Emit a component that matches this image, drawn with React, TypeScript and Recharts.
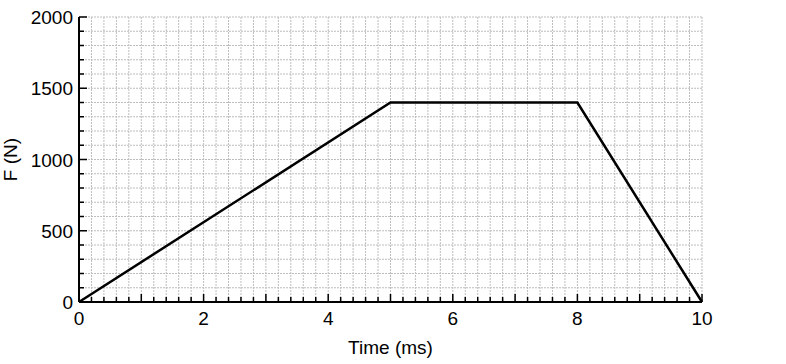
import { LineChart, Line, XAxis, YAxis, CartesianGrid } from "recharts";

const times = [0, 5, 8, 10];
const forces = [0, 1400, 1400, 0];

const xTicks = Array.from({ length: 51 }, (_, i) => +(i * 0.2).toFixed(1));
const yTicks = Array.from({ length: 21 }, (_, i) => i * 100);
const xLabels = [0, 2, 4, 6, 8, 10];
const yLabels = [0, 500, 1000, 1500, 2000];

const data = times.map((t, i) => ({ t, f: forces[i] }));

const font = "'Liberation Sans', Arial, Helvetica, sans-serif";
const fontSize = 19;

const isMajorX = (v: number) => Math.abs(v - Math.round(v)) < 1e-6;
const isMajorY = (v: number) => v % 500 === 0;

const BottomTick = (props: any) => {
  const { x, y, payload } = props;
  const v = payload.value;
  const len = isMajorX(v) ? 8 : 5;
  return (
    <g>
      <line x1={x} x2={x} y1={y} y2={y - len} stroke="#000" strokeWidth={1.5} />
      {xLabels.includes(v) && (
        <text x={x} y={y + 23} textAnchor="middle" fontSize={fontSize} fontFamily={font} fill="#000">
          {v}
        </text>
      )}
    </g>
  );
};

const TopTick = (props: any) => {
  const { x, y, payload } = props;
  const len = isMajorX(payload.value) ? 8 : 5;
  return <line x1={x} x2={x} y1={y} y2={y + len} stroke="#000" strokeWidth={1.5} />;
};

const LeftTick = (props: any) => {
  const { x, y, payload } = props;
  const v = payload.value;
  const len = isMajorY(v) ? 8 : 5;
  return (
    <g>
      <line x1={x} x2={x + len} y1={y} y2={y} stroke="#000" strokeWidth={1.5} />
      {yLabels.includes(v) && (
        <text x={x - 6} y={y + 7} textAnchor="end" fontSize={fontSize} fontFamily={font} fill="#000">
          {v}
        </text>
      )}
    </g>
  );
};

const RightTick = (props: any) => {
  const { x, y, payload } = props;
  const len = isMajorY(payload.value) ? 8 : 5;
  return <line x1={x} x2={x - len} y1={y} y2={y} stroke="#000" strokeWidth={1.5} />;
};

const axisLine = { stroke: "#000", strokeWidth: 2 };

export default function App() {
  return (
    <div style={{ position: "absolute", left: 0, top: 0, width: 786, height: 364, background: "#fff" }}>
      <LineChart
        width={786}
        height={364}
        data={data}
        margin={{ top: 17, right: 84, left: 0, bottom: 0 }}
      >
        <CartesianGrid stroke="#bdbdbd" strokeDasharray="2 1" strokeWidth={1} />
        <XAxis
          dataKey="t"
          type="number"
          domain={[0, 10]}
          ticks={xTicks}
          interval={0}
          height={62}
          tickSize={0}
          tickMargin={0}
          tickLine={false}
          axisLine={axisLine}
          tick={<BottomTick />}
          label={{
            content: ({ viewBox }: any) => (
              <text
                x={viewBox.x + viewBox.width / 2}
                y={viewBox.y + 52}
                textAnchor="middle"
                fontSize={fontSize}
                fontFamily={font}
                fill="#000"
              >
                Time (ms)
              </text>
            ),
          }}
        />
        <XAxis
          xAxisId="top"
          orientation="top"
          dataKey="t"
          type="number"
          domain={[0, 10]}
          ticks={xTicks}
          interval={0}
          height={0}
          tickSize={0}
          tickMargin={0}
          tickLine={false}
          axisLine={axisLine}
          tick={<TopTick />}
        />
        <YAxis
          type="number"
          domain={[0, 2000]}
          ticks={yTicks}
          interval={0}
          width={79}
          tickSize={0}
          tickMargin={0}
          tickLine={false}
          axisLine={axisLine}
          tick={<LeftTick />}
          label={{
            content: ({ viewBox }: any) => {
              const cx = 17;
              const cy = viewBox.y + viewBox.height / 2;
              return (
                <text
                  x={cx}
                  y={cy}
                  transform={`rotate(-90, ${cx}, ${cy})`}
                  textAnchor="middle"
                  fontSize={fontSize}
                  fontFamily={font}
                  fill="#000"
                >
                  F (N)
                </text>
              );
            },
          }}
        />
        <YAxis
          yAxisId="right"
          orientation="right"
          type="number"
          domain={[0, 2000]}
          ticks={yTicks}
          interval={0}
          width={0}
          tickSize={0}
          tickMargin={0}
          tickLine={false}
          axisLine={axisLine}
          tick={<RightTick />}
        />
        <Line
          dataKey="f"
          stroke="#000"
          strokeWidth={2.5}
          dot={false}
          isAnimationActive={false}
        />
      </LineChart>
    </div>
  );
}
